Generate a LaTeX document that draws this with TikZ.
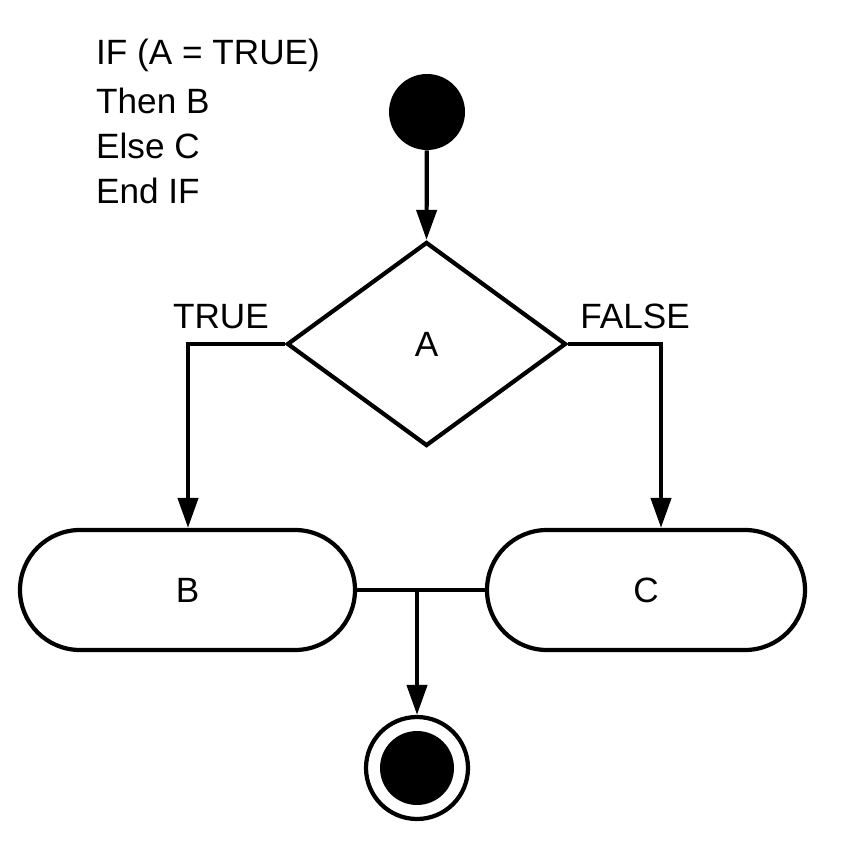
\documentclass[tikz,border=0pt]{standalone}
\usepackage{fontspec}
\setmainfont{Liberation Sans}
\usetikzlibrary{shapes.geometric,arrows.meta}
\tikzset{
  flow/.style={line width=2.4pt,-{Triangle[length=0.6cm,width=0.4cm]}},
  action/.style={draw,line width=2.4pt,rounded corners=1.2cm,minimum height=2.4cm},
  decision/.style={draw,diamond,line width=2.4pt,minimum width=5.58cm,minimum height=4.08cm,inner sep=0pt},
  lbl/.style={font=\fontsize{20}{24}\selectfont}
}
\begin{document}
\begin{tikzpicture}
  \useasboundingbox[fill=white] (0,0) rectangle (16.8,-17.1);
  % pseudocode
  \node[lbl,anchor=west] (l1) at (1.8,-1.1) {IF (A = TRUE)};
  \node[lbl,anchor=west] (l2) at (1.8,-2.02) {Then B};
  \node[lbl,anchor=west] (l3) at (1.8,-2.92) {Else C};
  \node[lbl,anchor=west] (l4) at (1.8,-3.82) {End IF};

  % nodes
  \node[circle,fill=black,minimum size=1.52cm,inner sep=0pt] (start) at (8.54,-2.24) {};
  \node[decision,lbl] (a) at (8.53,-6.88) {A};
  \node[action,lbl,minimum width=6.7cm] (b) at (3.75,-11.8) {B};
  \node[action,lbl,minimum width=6.36cm] (c) at (12.92,-11.8) {C};
  \node[circle,draw,line width=2.4pt,minimum size=2.04cm,inner sep=0pt] (stop) at (8.34,-15.36) {};
  \fill (stop) circle [radius=0.74];

  % connectors
  \draw[flow] (start) -- (a.north);
  \draw[flow] (a.west) -| (b.north -| 3.76,0)
    node[lbl,pos=0.33,above=4pt] {TRUE};
  \draw[flow] (a.east) -| (c.north -| 13.22,0)
    node[lbl,pos=0.36,above=4pt] {FALSE};
  \draw[line width=2.4pt] (b.east) -- (c.west);
  \coordinate (join) at (b.east -| stop.north);
  \draw[flow] (join) -- (stop.north);
\end{tikzpicture}
\end{document}
